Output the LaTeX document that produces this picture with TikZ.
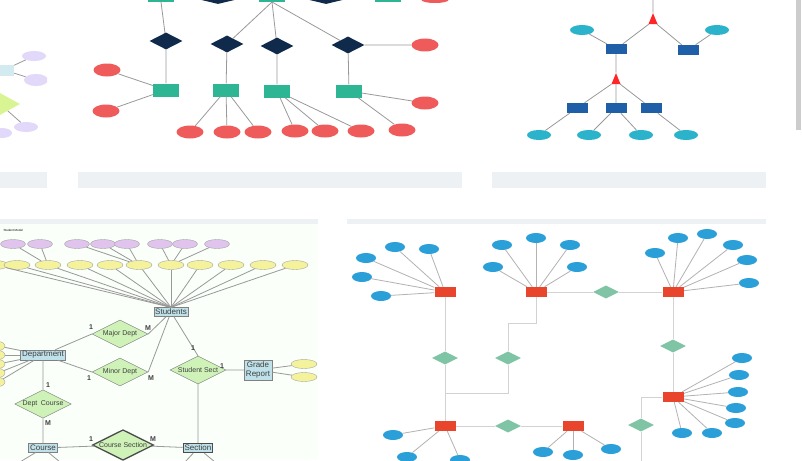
\documentclass[tikz,border=0pt]{standalone}
\usepackage{fontspec}
\setmainfont{Liberation Sans}
\usetikzlibrary{shapes.geometric}
\definecolor{strip}{HTML}{EEF1F4}
\definecolor{tealr}{HTML}{2DB594}
\definecolor{navy}{HTML}{0F2A4A}
\definecolor{redE}{HTML}{EF5B5B}
\definecolor{blueR}{HTML}{1F5FA8}
\definecolor{cyanE}{HTML}{2BB3CC}
\definecolor{lav}{HTML}{E0C4EE}
\definecolor{yel}{HTML}{F4F29A}
\definecolor{ltblue}{HTML}{BFE1EA}
\definecolor{lgreen}{HTML}{CFF2B8}
\definecolor{redR}{HTML}{E8452C}
\definecolor{blueE}{HTML}{2A9FD8}
\definecolor{greenD}{HTML}{7FC4A4}
\tikzset{
 lk/.style={draw=gray!80,line width=0.8pt},
 lkl/.style={draw=gray!35,line width=0.9pt},
 tr/.style={rectangle,fill=tealr,minimum width=26pt,minimum height=13pt,inner sep=0},
 nd/.style={diamond,fill=navy,minimum width=33pt,minimum height=17pt,aspect=2,inner sep=0},
 re/.style={ellipse,fill=redE,minimum width=27pt,minimum height=13pt,inner sep=0},
 br/.style={rectangle,fill=blueR,minimum width=21pt,minimum height=10pt,inner sep=0},
 ce/.style={ellipse,fill=cyanE,minimum width=24pt,minimum height=10pt,inner sep=0},
 rtri/.style={isosceles triangle,shape border rotate=90,fill=red!85,minimum width=9pt,minimum height=8pt,inner sep=0},
 le/.style={ellipse,draw=gray!70,fill=lav,minimum width=25pt,minimum height=9pt,inner sep=0},
 ye/.style={ellipse,draw=gray!70,fill=yel,minimum width=26pt,minimum height=9pt,inner sep=0},
 ent/.style={rectangle,draw=gray,fill=ltblue,inner sep=1.5pt,font=\fontsize{8}{9}\selectfont,text=black!75},
 rel/.style={diamond,draw=gray,fill=lgreen,aspect=2,inner sep=0.5pt,minimum width=56pt,minimum height=28pt,font=\fontsize{7}{8}\selectfont,text=black!75},
 card/.style={font=\fontsize{7}{8}\selectfont\bfseries,text=black!75},
 rr/.style={rectangle,fill=redR,minimum width=21pt,minimum height=10pt,inner sep=0},
 be/.style={ellipse,fill=blueE,minimum width=20pt,minimum height=10pt,inner sep=0},
 gd/.style={diamond,fill=greenD,aspect=2,minimum width=26pt,minimum height=13pt,inner sep=0},
}
\begin{document}
\begin{tikzpicture}[x=1pt,y=-1pt]
\useasboundingbox (0,0) rectangle (802,460);
\fill[white] (0,0) rectangle (802,460);
% strips
\fill[strip] (0,172) rectangle (47,188);
\fill[strip] (78,172) rectangle (462,188);
\fill[strip] (492,172) rectangle (766,188);
\fill[strip] (0,219) rectangle (318,224);
\fill[strip] (347,219) rectangle (766,224);
\fill[gray!40] (796,0) rectangle (801,130);
\fill[green!2] (0,224) rectangle (318,460);

% ---------- top-left partial
\begin{scope}
\clip (0,0) rectangle (47,172);
\node[rectangle,fill=ltblue!70,minimum width=20pt,minimum height=11pt] (tlr) at (4,70) {};
\node[ellipse,fill=lav!80!blue!40,minimum width=24pt,minimum height=10pt] (tle1) at (34,56) {};
\node[ellipse,fill=lav!80!blue!40,minimum width=24pt,minimum height=12pt] (tle2) at (36,80) {};
\node[ellipse,fill=lav!80!blue!40,minimum width=24pt,minimum height=10pt] (tle3) at (26,127) {};
\node[ellipse,fill=lav!80!blue!40,minimum width=20pt,minimum height=10pt] (tle4) at (2,133) {};
\node[diamond,fill=lgreen!80!yellow,aspect=2,minimum width=40pt,minimum height=22pt,inner sep=0] (tld) at (0,104) {};
\draw[lk] (tlr) -- (tle1) (tlr) -- (tle2) (tld) -- (tle3);
\end{scope}

% ---------- top-middle
\node[tr,minimum height=4pt] (t0) at (161,0) {};
\node[nd,minimum height=8pt] (td0) at (218,0) {};
\node[tr,minimum height=4pt] (t1) at (272,0) {};
\node[nd,minimum height=8pt] (td1) at (326,0) {};
\node[tr,minimum height=4pt] (t2) at (388,0) {};
\node[re,minimum height=6pt] (te0) at (435,0) {};
\node[nd] (d1) at (166,41) {};
\node[nd] (d2) at (227,44) {};
\node[nd] (d3) at (277,46) {};
\node[nd] (d4) at (348,45) {};
\node[tr] (r1) at (166,90) {};
\node[tr] (r2) at (226,90) {};
\node[tr] (r3) at (277,91) {};
\node[tr] (r4) at (349,91) {};
\node[re] (e1) at (107,70) {};
\node[re] (e2) at (106,111) {};
\node[re] (e3) at (190,132) {};
\node[re] (e4) at (227,132) {};
\node[re] (e5) at (258,132) {};
\node[re] (e6) at (295,131) {};
\node[re] (e7) at (325,131) {};
\node[re] (e8) at (361,131) {};
\node[re] (e9) at (402,130) {};
\node[re] (e10) at (425,103) {};
\node[re] (e11) at (425,45) {};
\draw[lk] (161,2) -- (d1) (d1) -- (r1);
\draw[lk] (272,2) -- (d2) (d2) -- (r2);
\draw[lk] (272,2) -- (d3) (d3) -- (r3);
\draw[lk] (272,2) -- (d4) (d4) -- (r4) (d4) -- (e11);
\draw[lk] (r1) -- (e1) (r1) -- (e2);
\draw[lk] (r2) -- (e3) (r2) -- (e4) (r2) -- (e5);
\draw[lk] (r3) -- (e6) (r3) -- (e7) (r3) -- (e8);
\draw[lk] (r4) -- (e9) (r4) -- (e10);

% ---------- top-right
\node[rtri] (tri1) at (653,21) {};
\node[rtri] (tri2) at (616,81) {};
\coordinate (top1) at (653,0);
\node[br] (b1) at (616,49) {};
\node[br] (b2) at (688,50) {};
\node[ce] (c1) at (582,30) {};
\node[ce] (c2) at (717,30) {};
\node[br] (b3) at (577,108) {};
\node[br] (b4) at (616,108) {};
\node[br] (b5) at (651,108) {};
\node[ce] (c3) at (539,135) {};
\node[ce] (c4) at (589,135) {};
\node[ce] (c5) at (641,135) {};
\node[ce] (c6) at (686,135) {};
\draw[lk] (top1) -- (tri1) (tri1) -- (b1) (tri1) -- (b2) (b1) -- (c1) (b2) -- (c2);
\draw[lk] (b1) -- (tri2) (tri2) -- (b3) (tri2) -- (b4) (tri2) -- (b5);
\draw[lk] (b3) -- (c3) (b4) -- (c4) (b4) -- (c5) (b5) -- (c6);

% ---------- bottom-left
\begin{scope}
\clip (0,224) rectangle (318,460);
\node[font=\fontsize{3}{3}\selectfont,anchor=west] (ttl) at (0,230) {Student Model};
\foreach \i/\x in {1/13,2/40,3/77,4/103,5/127,6/160,7/185,8/217}
  \node[le] (L\i) at (\x,244) {};
\foreach \i/\x in {0/-5,1/17,2/48,3/80,4/110,5/139,6/171,7/200,8/231,9/263,10/295}
  \node[ye] (Y\i) at (\x,265) {};
\node[ent] (stu) at (171,312) {Students};
\node[rel] (maj) at (120,334) {Major Dept};
\node[rel] (min) at (120,372) {Minor Dept};
\node[ent] (dep) at (43,355) {Department};
\node[rel] (ss) at (198,370) {Student Sect};
\node[ent,align=center,inner sep=2pt] (gr) at (258,370) {Grade\\Report};
\node[ye] (g1) at (304,364) {};
\node[ye] (g2) at (304,377) {};
\node[rel] (dc) at (43,404) {Dept\enspace Course};
\node[ent] (cou) at (43,448) {Course};
\node[rel,line width=1.3pt,draw=black!70] (cs) at (123,445) {Course Section};
\node[ent,line width=1.3pt,draw=black!70] (sec) at (198,448) {Section};
\foreach \k in {-12,0,12,24,36} \node[ye,minimum width=14pt] (D\k) at (-2,355+\k*0.75) {};
\draw[lk] (L1) -- (Y2) (L2) -- (Y2) (L3) -- (Y5) (L4) -- (Y5) (L5) -- (Y5) (L6) -- (Y6) (L7) -- (Y6) (L8) -- (Y6);
\foreach \i in {0,...,10} \draw[lk] (Y\i) -- (stu.north);
\draw[lk] (stu) -- (maj.east) (stu) -- (min.east) (stu) -- (ss.north);
\draw[lk] (dep) -- (maj.west) (dep) -- (min.west) (dep) -- (dc) (dc) -- (cou);
\draw[lk] (ss) -- (gr) (gr) -- (g1) (gr) -- (g2) (ss) -- (sec);
\draw[lk] (cou) -- (cs) (cs) -- (sec);
\foreach \k in {-12,0,12,24,36} \draw[lk] (dep) -- (D\k);
\draw[lk] (cou) -- (20,462) (cou) -- (60,462) (sec) -- (185,462) (sec) -- (215,462);
\node[card] (k1) at (91,327) {1};
\node[card] (k2) at (148,328) {M};
\node[card] (k3) at (89,378) {1};
\node[card] (k4) at (151,378) {M};
\node[card] (k5) at (193,348) {1};
\node[card] (k6) at (222,366) {1};
\node[card] (k7) at (48,385) {1};
\node[card] (k8) at (48,423) {M};
\node[card] (k9) at (91,439) {1};
\node[card] (k10) at (153,439) {M};
\end{scope}

% ---------- bottom-right
\begin{scope}
\clip (347,224) rectangle (766,460);
\node[rr] (A) at (445,292) {};
\node[rr] (B) at (536,292) {};
\node[rr] (C) at (673,292) {};
\node[rr] (D) at (673,397) {};
\node[rr] (E) at (445,426) {};
\node[rr] (F) at (573,426) {};
\node[gd] (g1) at (606,292) {};
\node[gd] (g2) at (673,346) {};
\node[gd] (g3) at (445,358) {};
\node[gd] (g4) at (508,358) {};
\node[gd] (g5) at (508,426) {};
\node[gd] (g6) at (641,425) {};
\coordinate (j1) at (536,323);
\coordinate (j2) at (508,323);
\coordinate (j3) at (508,393);
\coordinate (j4) at (445,393);
\coordinate (j5) at (641,397);
\coordinate (j6) at (641,462);
\draw[lkl] (A) -- (g3) (g3) -- (E) (B) -- (g1) (g1) -- (C) (C) -- (g2) (g2) -- (D) (E) -- (g5) (g5) -- (F);
\draw[lkl] (B) -- (j1) -- (j2) -- (g4) (g4) -- (j3) -- (j4);
\draw[lkl] (D) -- (j5) -- (g6) (g6) -- (j6);
\foreach \n/\p/\q in {a1/395/247,a2/429/249,a3/366/258,a4/362/277,a5/381/296}
 {\node[be] (\n) at (\p,\q) {}; \draw[lk,draw=gray!60] (A) -- (\n);}
\foreach \n/\p/\q in {b1/502/245,b2/536/238,b3/570/245,b4/493/267,b5/577/267}
 {\node[be] (\n) at (\p,\q) {}; \draw[lk,draw=gray!60] (B) -- (\n);}
\foreach \n/\p/\q in {c1/655/253,c2/678/238,c3/707/234,c4/733/245,c5/747/260,c6/749/283}
 {\node[be] (\n) at (\p,\q) {}; \draw[lk,draw=gray!60] (C) -- (\n);}
\foreach \n/\p/\q in {d1/742/358,d2/739/375,d3/738/392,d4/736/408,d5/735/423,d6/712/433,d7/682/433}
 {\node[be] (\n) at (\p,\q) {}; \draw[lk,draw=gray!60] (D) -- (\n);}
\foreach \n/\p/\q in {e1/393/435,e2/407/457,e3/460/460}
 {\node[be] (\n) at (\p,\q) {}; \draw[lk,draw=gray!60] (E) -- (\n);}
\foreach \n/\p/\q in {f1/543/452,f2/573/455,f3/611/449}
 {\node[be] (\n) at (\p,\q) {}; \draw[lk,draw=gray!60] (F) -- (\n);}
\foreach \n in {A,B,C,D,E,F} \node[rr] at (\n) {};
\end{scope}
\end{tikzpicture}
\end{document}
